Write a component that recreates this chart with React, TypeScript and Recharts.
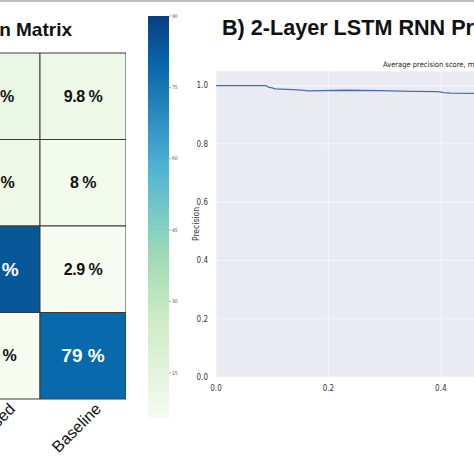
import React from 'react';
import {
  ScatterChart,
  Scatter,
  XAxis,
  YAxis,
  ReferenceArea,
  BarChart,
  Bar,
  LineChart,
  Line,
  CartesianGrid,
} from 'recharts';

// ---- confusion matrix (visible columns) ----
const classNames = ['Proposed', 'Baseline'];
const colProposed = [11, 10, 84, 3.6];
const colBaseline = [9.8, 8, 2.9, 79];

// ---- colour bar ----
const colorLimits = [5.5, 90];
const colorTicks = [15, 30, 45, 60, 75, 90];

// ---- precision / recall curve ----
const recall = [0, 0.089, 0.093, 0.1, 0.105, 0.146, 0.165, 0.23, 0.29, 0.35, 0.395, 0.405, 0.418, 0.46, 0.48];
const precision = [1.0, 1.0, 0.995, 0.992, 0.989, 0.985, 0.982, 0.984, 0.983, 0.98, 0.979, 0.976, 0.974, 0.973, 0.972];
const prTicks = [0, 0.2, 0.4, 0.6, 0.8, 1.0];

const SANS = '"Liberation Sans", Arial, Helvetica, sans-serif';
const COND = '"DejaVu Sans Condensed", "DejaVu Sans", sans-serif';

// GnBu colormap stops
const GNBU = ['#f7fcf0', '#e0f3db', '#ccebc5', '#a8ddb5', '#7bccc4', '#4eb3d3', '#2b8cbe', '#0868ac', '#084081'];

function hexToRgb(h: string) {
  const n = parseInt(h.slice(1), 16);
  return [(n >> 16) & 255, (n >> 8) & 255, n & 255];
}

function gnbu(v: number) {
  let t = (v - colorLimits[0]) / (colorLimits[1] - colorLimits[0]);
  t = Math.max(0, Math.min(1, t));
  const f = t * (GNBU.length - 1);
  const i = Math.min(GNBU.length - 2, Math.floor(f));
  const k = f - i;
  const a = hexToRgb(GNBU[i]);
  const b = hexToRgb(GNBU[i + 1]);
  const c = a.map((x, j) => Math.round(x + (b[j] - x) * k));
  return `rgb(${c[0]},${c[1]},${c[2]})`;
}

const matrixCols = [colProposed, colBaseline];
const cells = matrixCols.flatMap((col, c) =>
  col.map((v, r) => ({ x: c, y: r, v, label: `${v} %` }))
);

const colorbarData = [{ name: 'scale', range: [colorLimits[0], colorLimits[1]] }];

const prData = recall.map((r, i) => ({ recall: r, precision: precision[i] }));

function CellText(props: any) {
  const { cx, cy, payload } = props;
  const dark = payload.v > 50;
  return (
    <text
      x={cx}
      y={cy}
      textAnchor="middle"
      dominantBaseline="central"
      fontFamily={SANS}
      fontWeight={700}
      fontSize={dark ? 19 : 16}
      letterSpacing={dark ? 0 : -0.5}
      fill={dark ? '#ffffff' : '#111111'}
    >
      {payload.label}
    </text>
  );
}

function ClassTick(props: any) {
  const { x, y, payload } = props;
  return (
    <text
      transform={`translate(${x + 19},${y + 11}) rotate(-45)`}
      textAnchor="end"
      fontFamily={SANS}
      fontSize={16}
      fill="#111"
    >
      {classNames[payload.value]}
    </text>
  );
}

export default function App() {
  return (
    <div
      style={{
        position: 'absolute',
        left: 0,
        top: 0,
        width: 474,
        height: 474,
        overflow: 'hidden',
        background: '#ffffff',
      }}
    >
      {/* Confusion matrix */}
      <div style={{ position: 'absolute', left: -46, top: 0 }}>
        <ScatterChart width={172} height={474} margin={{ top: 53, right: 0, bottom: 0, left: 0 }}>
          <XAxis
            type="number"
            dataKey="x"
            domain={[-0.5, 1.5]}
            ticks={[0, 1]}
            interval={0}
            tick={<ClassTick />}
            tickLine={false}
            axisLine={false}
            tickSize={0}
            tickMargin={0}
            height={75}
          />
          <YAxis type="number" dataKey="y" domain={[-0.5, 3.5]} reversed hide />
          {cells.map((c) => (
            <ReferenceArea
              key={`${c.x}-${c.y}`}
              x1={c.x - 0.5}
              x2={c.x + 0.5}
              y1={c.y - 0.5}
              y2={c.y + 0.5}
              fill={gnbu(c.v)}
              fillOpacity={1}
              stroke="#3a3a3a"
              strokeWidth={1}
            />
          ))}
          <Scatter data={cells} shape={<CellText />} isAnimationActive={false} />
        </ScatterChart>
      </div>

      {/* Colour bar */}
      <div style={{ position: 'absolute', left: 148, top: 0 }}>
        <BarChart
          width={41}
          height={474}
          data={colorbarData}
          margin={{ top: 16, right: 0, bottom: 56, left: 0 }}
          barCategoryGap={0}
        >
          <XAxis dataKey="name" hide />
          <YAxis
            orientation="right"
            type="number"
            domain={colorLimits}
            ticks={colorTicks}
            width={20}
            axisLine={false}
            tickSize={2}
            tickMargin={1}
            tickLine={{ stroke: '#777', strokeWidth: 0.6 }}
            tick={{ fontSize: 5, fill: '#555', fontFamily: COND }}
          />
          <Bar dataKey="range" fill="url(#gnbuGrad)" isAnimationActive={false} />
        </BarChart>
      </div>

      {/* Precision-recall curve */}
      <div style={{ position: 'absolute', left: 186, top: 0 }}>
        <LineChart width={592} height={474} data={prData} margin={{ top: 71, right: 0, bottom: 0, left: 0 }}>
          <CartesianGrid fill="#eaeaf2" fillOpacity={1} stroke="#ffffff" strokeOpacity={0.55} strokeWidth={1} />
          <XAxis
            type="number"
            dataKey="recall"
            domain={[0, 1]}
            ticks={prTicks}
            interval={0}
            tickFormatter={(v: number) => v.toFixed(1)}
            tickLine={false}
            axisLine={false}
            tickSize={6}
            tickMargin={2}
            height={97}
            tick={{ fontSize: 8, fill: '#333', fontFamily: COND }}
          />
          <YAxis
            type="number"
            domain={[0, 1.05]}
            ticks={prTicks}
            interval={0}
            allowDataOverflow
            tickFormatter={(v: number) => v.toFixed(1)}
            tickLine={false}
            axisLine={false}
            tickSize={6}
            tickMargin={2}
            width={30}
            tick={{ fontSize: 8, fill: '#333', fontFamily: COND }}
          />
          <Line
            type="linear"
            dataKey="precision"
            stroke="#4a6fa8"
            strokeWidth={1.3}
            dot={false}
            isAnimationActive={false}
          />
        </LineChart>
      </div>

      {/* Titles and labels */}
      <svg
        width={474}
        height={474}
        style={{ position: 'absolute', left: 0, top: 0, pointerEvents: 'none' }}
      >
        <defs>
          <linearGradient id="gnbuGrad" x1="0" y1="0" x2="0" y2="1">
            {GNBU.slice()
              .reverse()
              .map((c, i) => (
                <stop key={c} offset={`${(i / (GNBU.length - 1)) * 100}%`} stopColor={c} />
              ))}
          </linearGradient>
        </defs>
        <rect x={0} y={0} width={474} height={2} fill="#bdbdbd" />
        <text x={72} y={36} textAnchor="end" fontFamily={SANS} fontWeight={700} fontSize={19} fill="#111">
          A) Confusion Matrix
        </text>
        <text x={222} y={35} fontFamily={SANS} fontWeight={700} fontSize={21.6} fill="#111">
          B) 2-Layer LSTM RNN Precision-Recall Curve
        </text>
        <text x={383} y={67} fontFamily={COND} fontSize={7.5} fill="#222">
          Average precision score, micro-averaged over all classes: AP=0.98
        </text>
        <text
          transform="translate(199,224) rotate(-90)"
          textAnchor="middle"
          fontFamily={COND}
          fontSize={8.5}
          fill="#333"
        >
          Precision
        </text>
      </svg>
    </div>
  );
}
